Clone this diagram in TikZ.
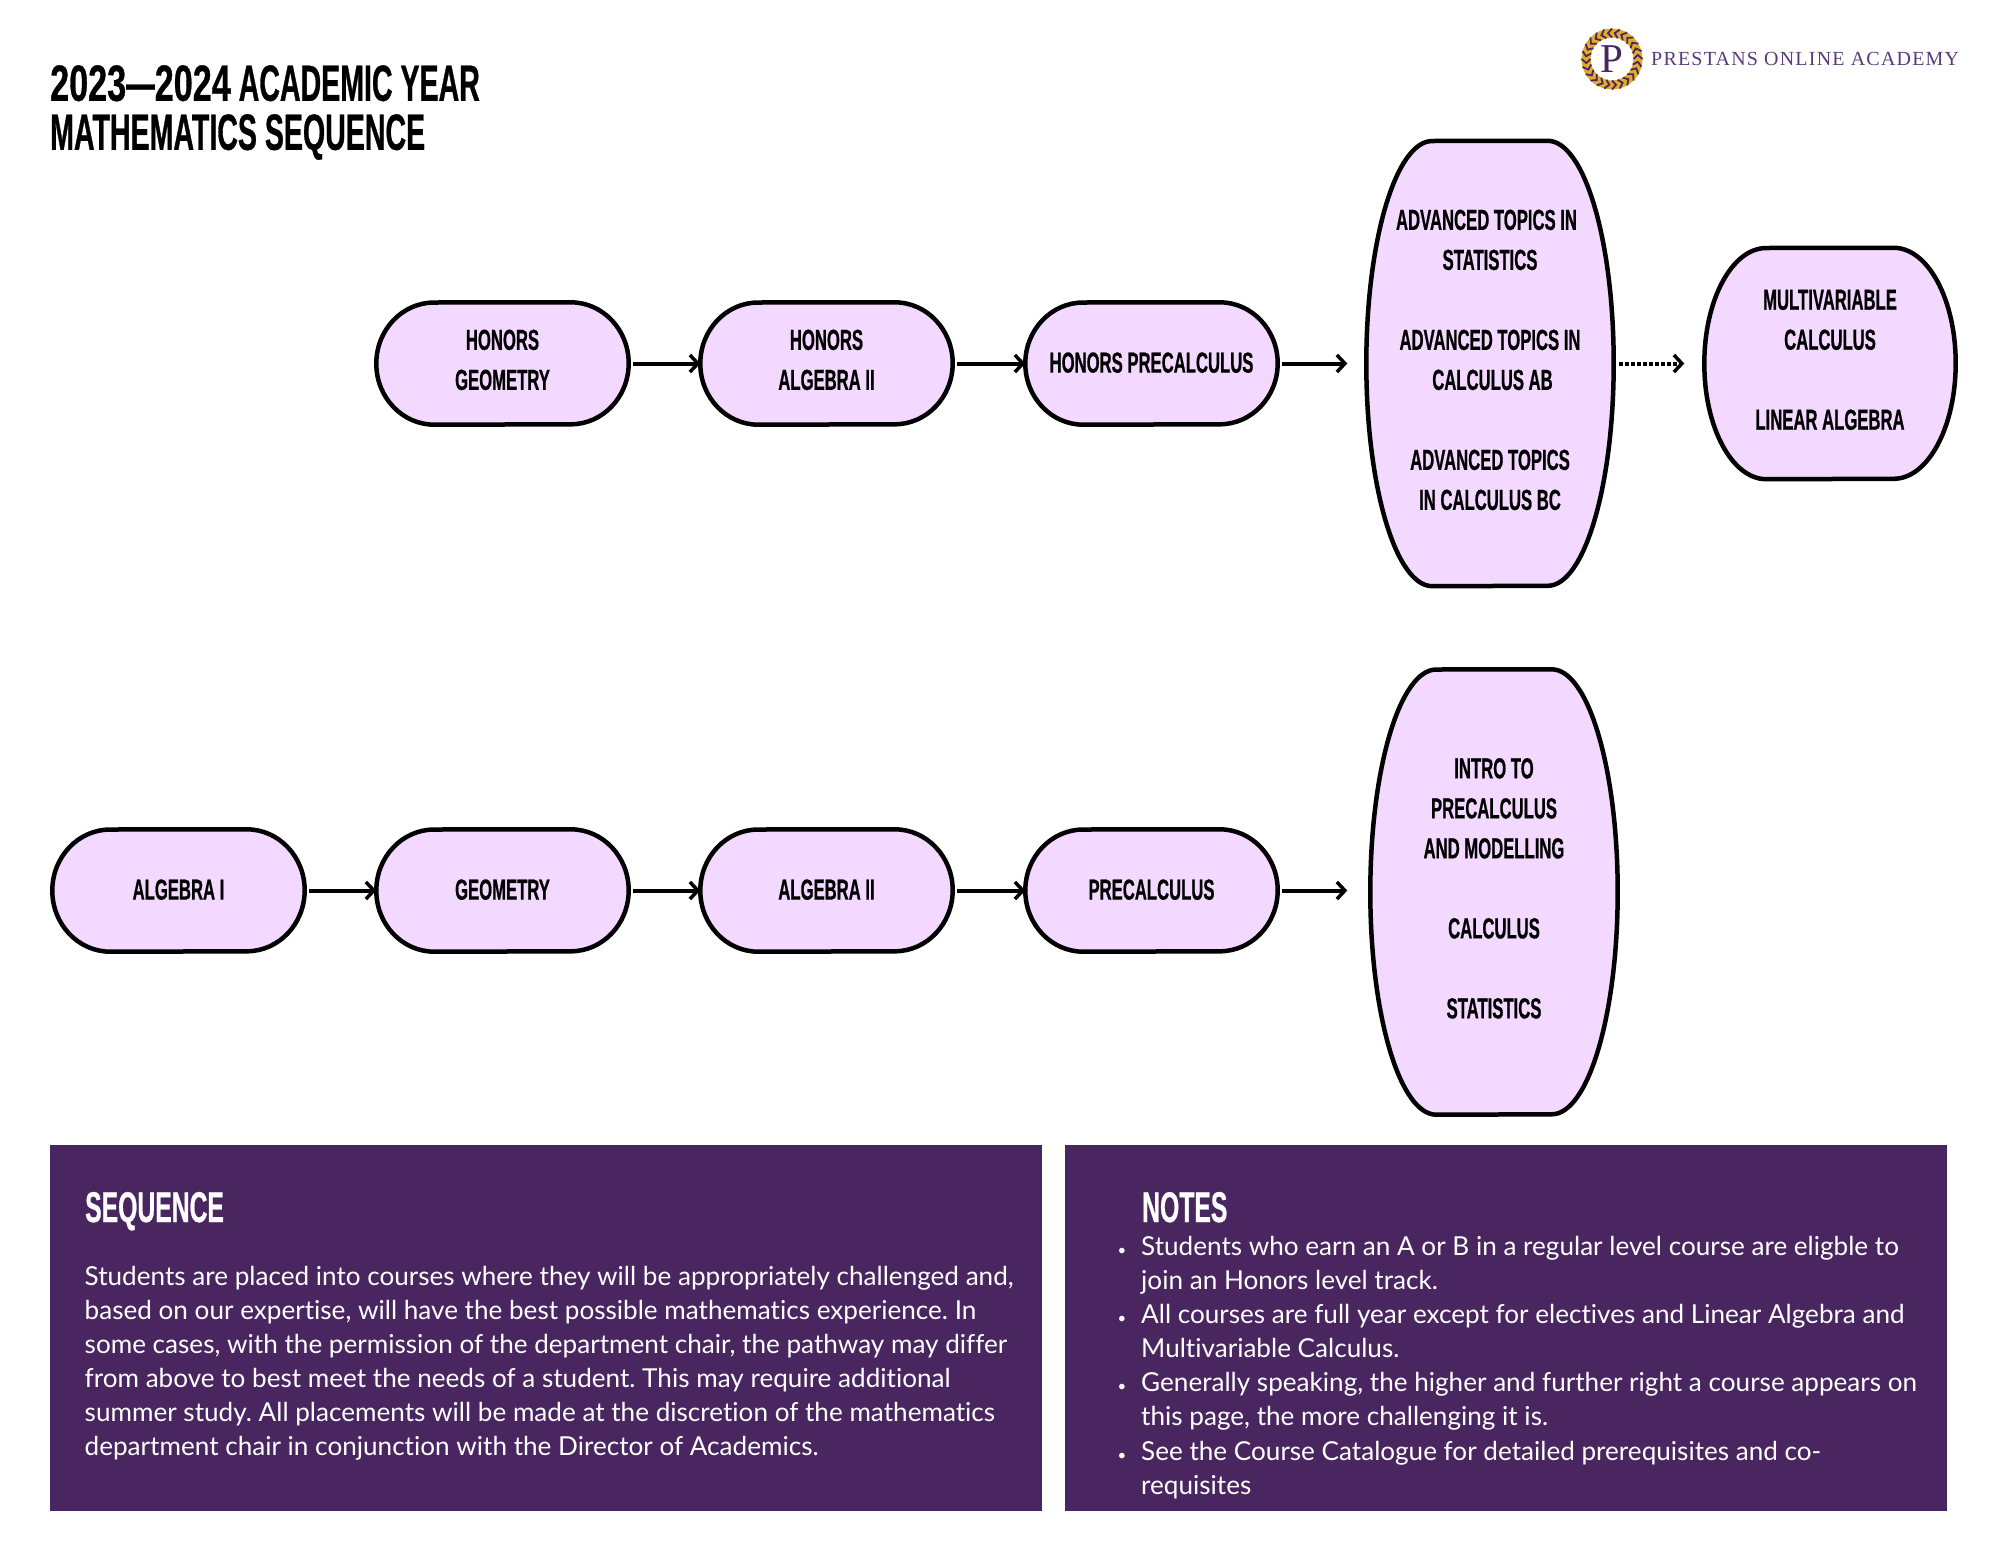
\documentclass[tikz,border=0pt]{standalone}
\usepackage{fontspec}
\usepackage{xcolor}
\usetikzlibrary{arrows.meta, backgrounds, calc}

\newfontfamily\titlefont[FakeStretch=0.56,FakeBold=0.6]{Liberation Sans Bold}
\newfontfamily\titledigits[FakeStretch=0.67,FakeBold=0.6]{Liberation Sans Bold}
\newfontfamily\headfont[FakeStretch=0.575,FakeBold=0.6]{Liberation Sans Bold}
\newfontfamily\bodyfont[Ligatures=NoCommon]{Lato}
\newfontfamily\logofont[LetterSpace=6]{Liberation Serif}

\definecolor{coursefill}{HTML}{F3D9FF}
\definecolor{panelpurple}{HTML}{4A2661}
\definecolor{logogold}{HTML}{E0AC2B}
\definecolor{logotext}{HTML}{5A3A7C}

\newcommand{\notemark}{\llap{{\fontsize{15}{15}\selectfont\textbullet}\hspace{15pt}}}

\tikzset{
  pillbox/.style={minimum width=252pt, minimum height=122pt, inner sep=0pt, align=center,
    text depth=2pt, font=\headfont\fontsize{29}{40}\selectfont},
  twoline/.style={text depth=7.5pt},
  tallbox/.style={pillbox, twoline, minimum width=247pt, minimum height=445pt},
  multibox/.style={pillbox, twoline, minimum width=251pt, minimum height=231pt},
  panel/.style={fill=panelpurple, inner sep=0pt, minimum height=366pt},
  panelhead/.style={text=white, inner sep=0pt, anchor=base west, font=\headfont\fontsize{43}{43}\selectfont},
  paneltext/.style={text=white, inner sep=0pt, anchor=north west, align=left,
    font=\bodyfont\frenchspacing\fontsize{26.1}{34.1}\selectfont},
  flow/.style={line width=4pt, -{Straight Barb[length=8pt,width=17pt,line width=3.5pt]}}
}

\begin{document}
\begin{tikzpicture}[x=1pt, y=1pt]

\useasboundingbox (0,0) rectangle (2000,-1545);

% title and logo
\node[inner sep=0pt, anchor=north west, align=left,
  font=\titlefont\fontsize{51}{49}\selectfont] (title) at (50,-65)
  {{\titledigits 2023}—{\titledigits 2024} ACADEMIC YEAR\\MATHEMATICS SEQUENCE};

\coordinate (logo) at (1612,-59);
\draw[logogold, line width=9pt] (logo) circle (26);
\foreach \a in {0,15,...,345} {
  \draw[panelpurple, line width=1.8pt] ($(logo)+(\a:21.5)$) -- ($(logo)+(\a+9:26)$) -- ($(logo)+(\a:30.5)$);
}
\node[text=panelpurple, inner sep=0pt, font=\fontspec{Liberation Serif}\fontsize{41}{41}\selectfont] (logoP) at (1612,-59) {P};
\node[text=logotext, inner sep=0pt, anchor=base west, font=\logofont\fontsize{20}{20}\selectfont] (logoname) at (1651,-65) {PRESTANS ONLINE ACADEMY};

% upper row
\node[pillbox, twoline] (hgeo) at (502.5,-363.5) {HONORS\\GEOMETRY};
\node[pillbox, twoline] (halg) at (826.5,-363.5) {HONORS\\ALGEBRA II};
\node[pillbox] (hpre) at (1151.5,-363.5) {HONORS PRECALCULUS};
\node[tallbox] (advt) at (1490,-363.5) {ADVANCED TOPICS IN\hspace*{7pt}\\STATISTICS\\[40pt]ADVANCED TOPICS IN\\\hspace*{5pt}CALCULUS AB\\[40pt]ADVANCED TOPICS\\IN CALCULUS BC};
\node[multibox] (multi) at (1830,-363.5) {MULTIVARIABLE\\CALCULUS\\[40pt]LINEAR ALGEBRA};

% lower row
\node[pillbox] (algone) at (178.5,-890.5) {ALGEBRA I};
\node[pillbox] (geo) at (502.5,-890.5) {GEOMETRY};
\node[pillbox] (algtwo) at (826.5,-890.5) {ALGEBRA II};
\node[pillbox] (pre) at (1151.5,-890.5) {PRECALCULUS};
\node[tallbox] (calc) at (1494,-892) {INTRO TO\\PRECALCULUS\\AND MODELLING\\[40pt]CALCULUS\\[40pt]STATISTICS};

% box outlines go under the labels
\begin{scope}[on background layer]
\foreach \boxname/\rx/\ry in {hgeo/58/61, halg/58/61, hpre/58/61, algone/58/61, geo/58/61,
    algtwo/58/61, pre/58/61, advt/66/222.5, calc/66/222.5, multi/62/115.5} {
  \draw[fill=coursefill, line width=4.5pt] (\boxname.west)
    arc[start angle=180, end angle=90, x radius=\rx, y radius=\ry]
    -- ($(\boxname.north east)+(-\rx,0)$)
    arc[start angle=90, end angle=-90, x radius=\rx, y radius=\ry]
    -- ($(\boxname.south west)+(\rx,0)$)
    arc[start angle=270, end angle=180, x radius=\rx, y radius=\ry] -- cycle;
}
\end{scope}

\draw[flow] (hgeo.east) ++(4,0) -- (halg.west);
\draw[flow] (halg.east) ++(4,0) -- (hpre.west);
\draw[flow, shorten >=19pt] (hpre.east) ++(4,0) -- (advt.west);
\draw[flow, dotted, -{Straight Barb[length=8pt,width=17pt,line width=3.5pt,sep=0pt]}, shorten >=20pt] (advt.east) ++(5,0) -- (multi.west);
\draw[flow] (algone.east) ++(4,0) -- (geo.west);
\draw[flow] (geo.east) ++(4,0) -- (algtwo.west);
\draw[flow] (algtwo.east) ++(4,0) -- (pre.west);
\draw[flow, shorten >=23pt] (pre.east) ++(4,0) -- (calc.west |- pre.east);

% bottom panels
\node[panel, minimum width=992pt, anchor=north west] (seqpanel) at (50,-1145) {};
\node[panel, minimum width=882pt, anchor=north west] (notepanel) at (1065,-1145) {};

\node[panelhead] (seqhead) at (85,-1222) {SEQUENCE};
\node[panelhead] (notehead) at (1142,-1222) {NOTES};

\node[paneltext] (seqtext) at (84.5,-1266) {Students are placed into courses where they will be appropriately challenged and,\\
based on our expertise, will have the best possible mathematics experience. In\\
some cases, with the permission of the department chair, the pathway may differ\\
from above to best meet the needs of a student. This may require additional\\
summer study. All placements will be made at the discretion of the mathematics\\
department chair in conjunction with the Director of Academics.};

\node[paneltext] (notetext) at (1141,-1236) {\notemark Students who earn an A or B in a regular level course are eligble to\\
join an Honors level track.\\
\notemark All courses are full year except for electives and Linear Algebra and\\
Multivariable Calculus.\\
\notemark Generally speaking, the higher and further right a course appears on\\
this page, the more challenging it is.\\
\notemark See the Course Catalogue for detailed prerequisites and co-\\
requisites};

\end{tikzpicture}
\end{document}
